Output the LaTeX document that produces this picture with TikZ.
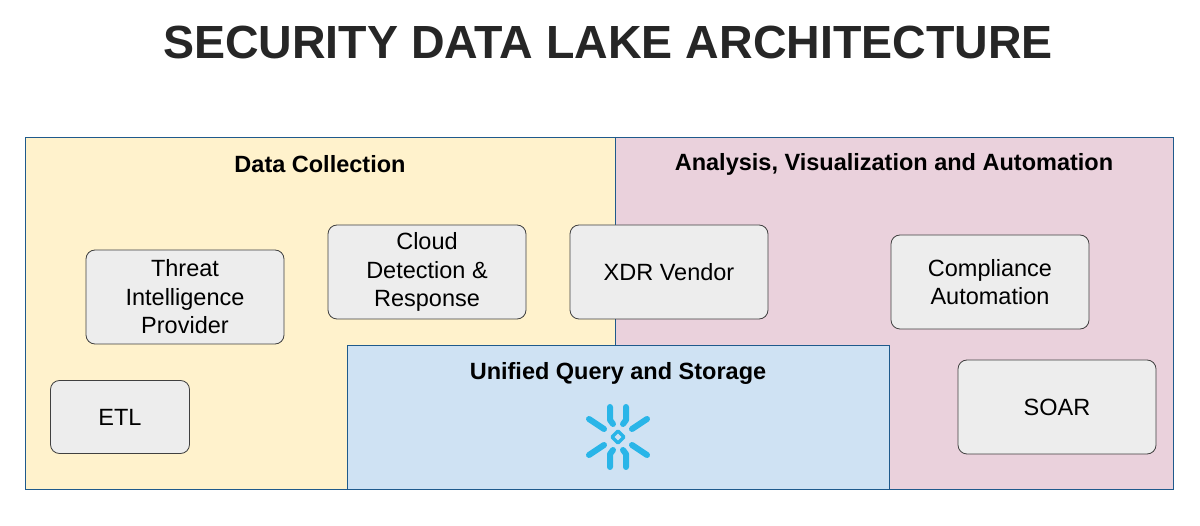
\documentclass[tikz,border=0pt]{standalone}
\usepackage{fontspec}
\setmainfont{Liberation Sans}
\begin{document}
\begin{tikzpicture}[x=1pt,y=-1pt,
  box/.style={draw=black!75,fill=black!7,rounded corners=9pt,line width=0.8pt,align=center,font=\fontsize{23.5}{28.5}\selectfont},
  head/.style={font=\bfseries\fontsize{23.5}{28}\selectfont},
  arm/.style={draw=snow,line width=6pt,line cap=round,line join=round}]
\definecolor{yel}{HTML}{FFF2CC}
\definecolor{pnk}{HTML}{EAD1DC}
\definecolor{blu}{HTML}{CFE2F3}
\definecolor{frm}{HTML}{1F5A8C}
\definecolor{snow}{HTML}{29B5E8}
\useasboundingbox (0,0) rectangle (1200,526);
\fill[white] (0,0) rectangle (1200,526);
\node[font=\bfseries\fontsize{46.5}{52}\selectfont,text=black!85] (title) at (608,42) {SECURITY DATA LAKE ARCHITECTURE};
\fill[yel] (25,137) rectangle (615,489);
\fill[pnk] (615,137) rectangle (1173,489);
\draw[frm,line width=0.8pt] (25,137) rectangle (1173,489);
\draw[frm,line width=0.8pt] (615,137) -- (615,345);
\node[head] (dc) at (320,164) {Data Collection};
\node[head] (ava) at (894,164) {Analysis, Visualization and Automation};
\draw[frm,fill=blu,line width=0.8pt] (347,345) rectangle (889,489);
\node[head] (uq) at (618,373) {Unified Query and Storage};
\node[box,minimum width=198pt,minimum height=94pt] (ti) at (185,297) {Threat\\Intelligence\\Provider};
\node[box,minimum width=198pt,minimum height=94pt] (cdr) at (427,272) {Cloud\\Detection \&\\Response};
\node[box,minimum width=198pt,minimum height=94pt] (xdr) at (669,272) {XDR Vendor};
\node[box,minimum width=198pt,minimum height=94pt] (ca) at (990,282) {Compliance\\Automation};
\node[box,minimum width=139pt,minimum height=73pt] (etl) at (120,417) {ETL};
\node[box,minimum width=198pt,minimum height=94pt] (soar) at (1057,407) {SOAR};
\begin{scope}[shift={(618,437)}]
\foreach \r in {0,180}{
  \begin{scope}[rotate=\r]
  \draw[arm] (-8,-30) -- (-8,-17) -- (-5,-13);
  \draw[arm] (8,-30) -- (8,-17) -- (5,-13);
  \draw[arm] (-29,-18) -- (-14,-8);
  \draw[arm] (-29,18) -- (-14,8);
  \end{scope}
}
\draw[snow,line width=3.5pt,line join=round] (0,-6) -- (6,0) -- (0,6) -- (-6,0) -- cycle;
\end{scope}
\end{tikzpicture}
\end{document}
